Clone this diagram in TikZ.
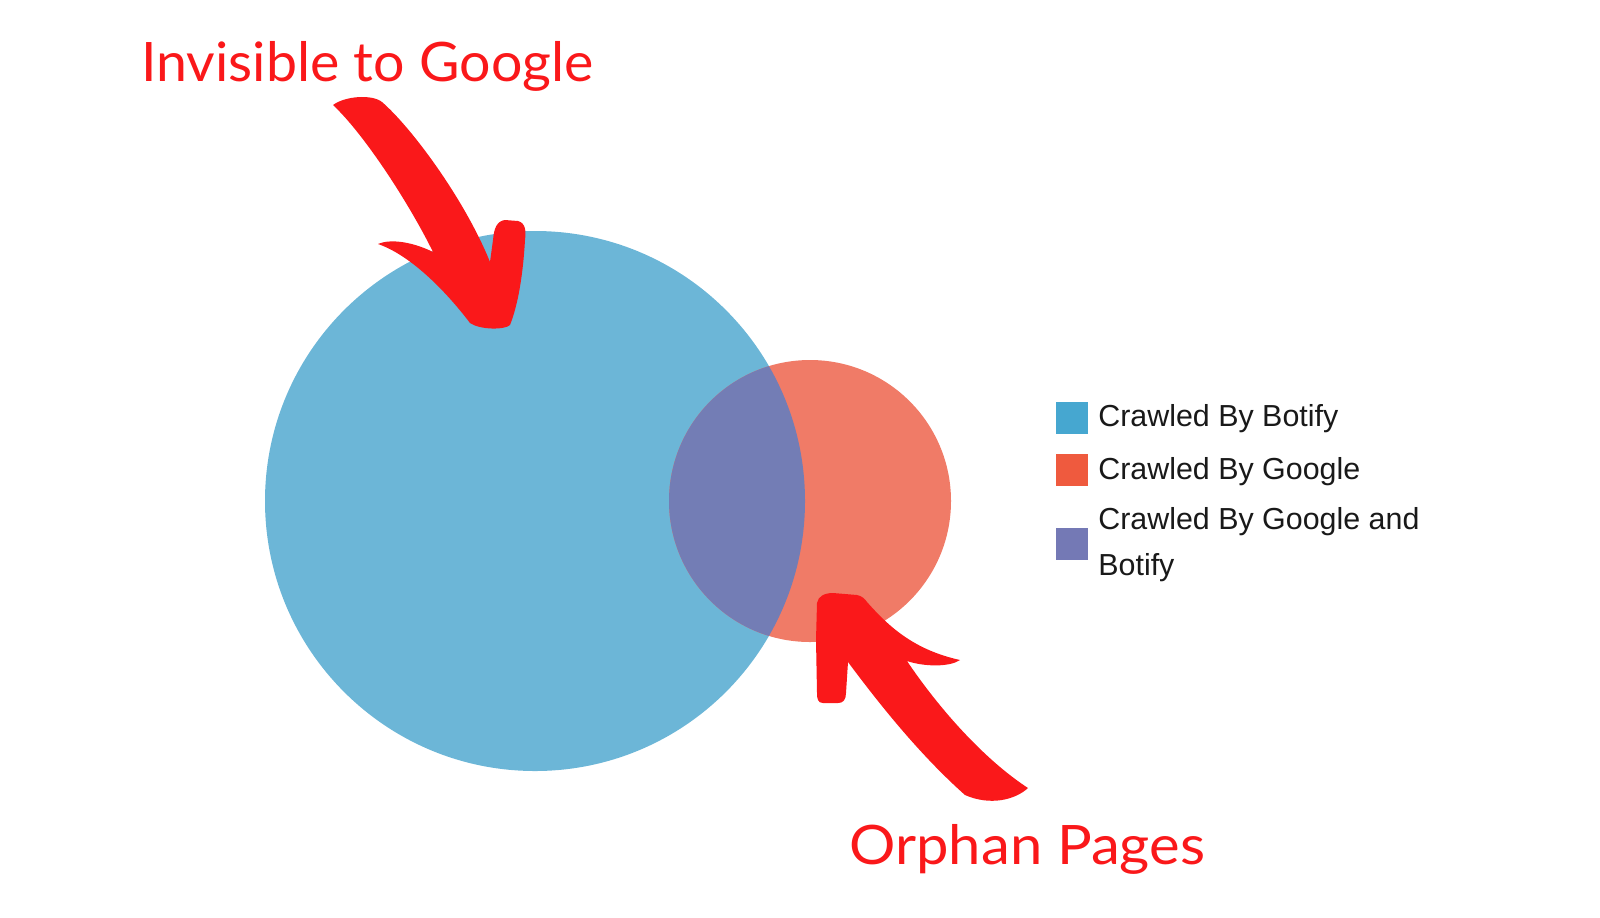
\documentclass[tikz,border=0pt]{standalone}
\usepackage{fontspec}
\setmainfont{Liberation Sans}
\newfontfamily\titlefont{Lato}
\definecolor{botify}{HTML}{6CB6D7}
\definecolor{google}{HTML}{F07B67}
\definecolor{both}{HTML}{737DB5}
\definecolor{lgbotify}{HTML}{46A7D0}
\definecolor{lggoogle}{HTML}{EF5A3E}
\definecolor{lgboth}{HTML}{7479B5}
\definecolor{arrowred}{HTML}{FA181A}
\tikzset{
  title/.style={font=\titlefont\fontsize{27.2}{30}\selectfont, text=arrowred, inner sep=0pt, anchor=base west},
  legtext/.style={font=\fontsize{15.2}{18}\selectfont, text=black!90, inner sep=0pt, anchor=base west},
  legbox/.style={minimum size=16pt, inner sep=0pt, draw=none},
  bigarrow/.style={fill=arrowred, draw=none},
}
\begin{document}
\begin{tikzpicture}[x=0.5pt,y=-0.5pt]
\useasboundingbox (0,0) rectangle (1600,917);
% circles
\fill[botify] (535,501) circle[radius=270];
\fill[google] (810,501) circle[radius=141];
\begin{scope}
  \clip (535,501) circle[radius=270];
  \fill[both] (810,501) circle[radius=141];
\end{scope}
% arrow 1 (Invisible to Google)
\fill[bigarrow] (333,105) .. controls (345,96) and (372,94) .. (382,102)
  .. controls (412,128) and (465,200) .. (490,262)
  -- (493,240) .. controls (494,228) and (497,221) .. (505,220) -- (518,221)
  .. controls (526,223) and (526,232) .. (525,240)
  .. controls (523,275) and (518,305) .. (510,325)
  .. controls (505,330) and (480,330) .. (470,323)
  .. controls (445,290) and (410,255) .. (378,244)
  .. controls (392,238) and (415,243) .. (433,252)
  .. controls (410,205) and (365,135) .. (333,105) -- cycle;
% arrow 2 (Orphan Pages)
\fill[bigarrow] (817,603) .. controls (818,596) and (825,593) .. (833,593) -- (857,595)
  .. controls (862,596) and (865,599) .. (867,602)
  .. controls (890,628) and (915,650) .. (960,660)
  .. controls (950,667) and (925,667) .. (907,661)
  .. controls (940,710) and (985,760) .. (1028,788)
  .. controls (1015,800) and (990,806) .. (965,795)
  .. controls (920,755) and (880,705) .. (848,662)
  -- (846,693) .. controls (846,700) and (843,703) .. (838,703) -- (823,703)
  .. controls (818,703) and (817,699) .. (817,693) -- (816,640) -- cycle;
% titles
\node[title] (t1) at (141,81) {\scalebox{1.02}[1]{Invisible to Google}};
\node[title] (t2) at (849,864) {\scalebox{1.065}[1]{Orphan Pages}};
% legend
\node[legbox, fill=lgbotify] (b1) at (1072,418) {};
\node[legbox, fill=lggoogle] (b2) at (1072,470) {};
\node[legbox, fill=lgboth] (b3) at (1072,544) {};
\node[legtext] (l1) at (1098,426) {Crawled By Botify};
\node[legtext] (l2) at (1098,479) {Crawled By Google};
\node[legtext] (l3) at (1098,529) {Crawled By Google and};
\node[legtext] (l3b) at (1098,575) {Botify};
\end{tikzpicture}
\end{document}
